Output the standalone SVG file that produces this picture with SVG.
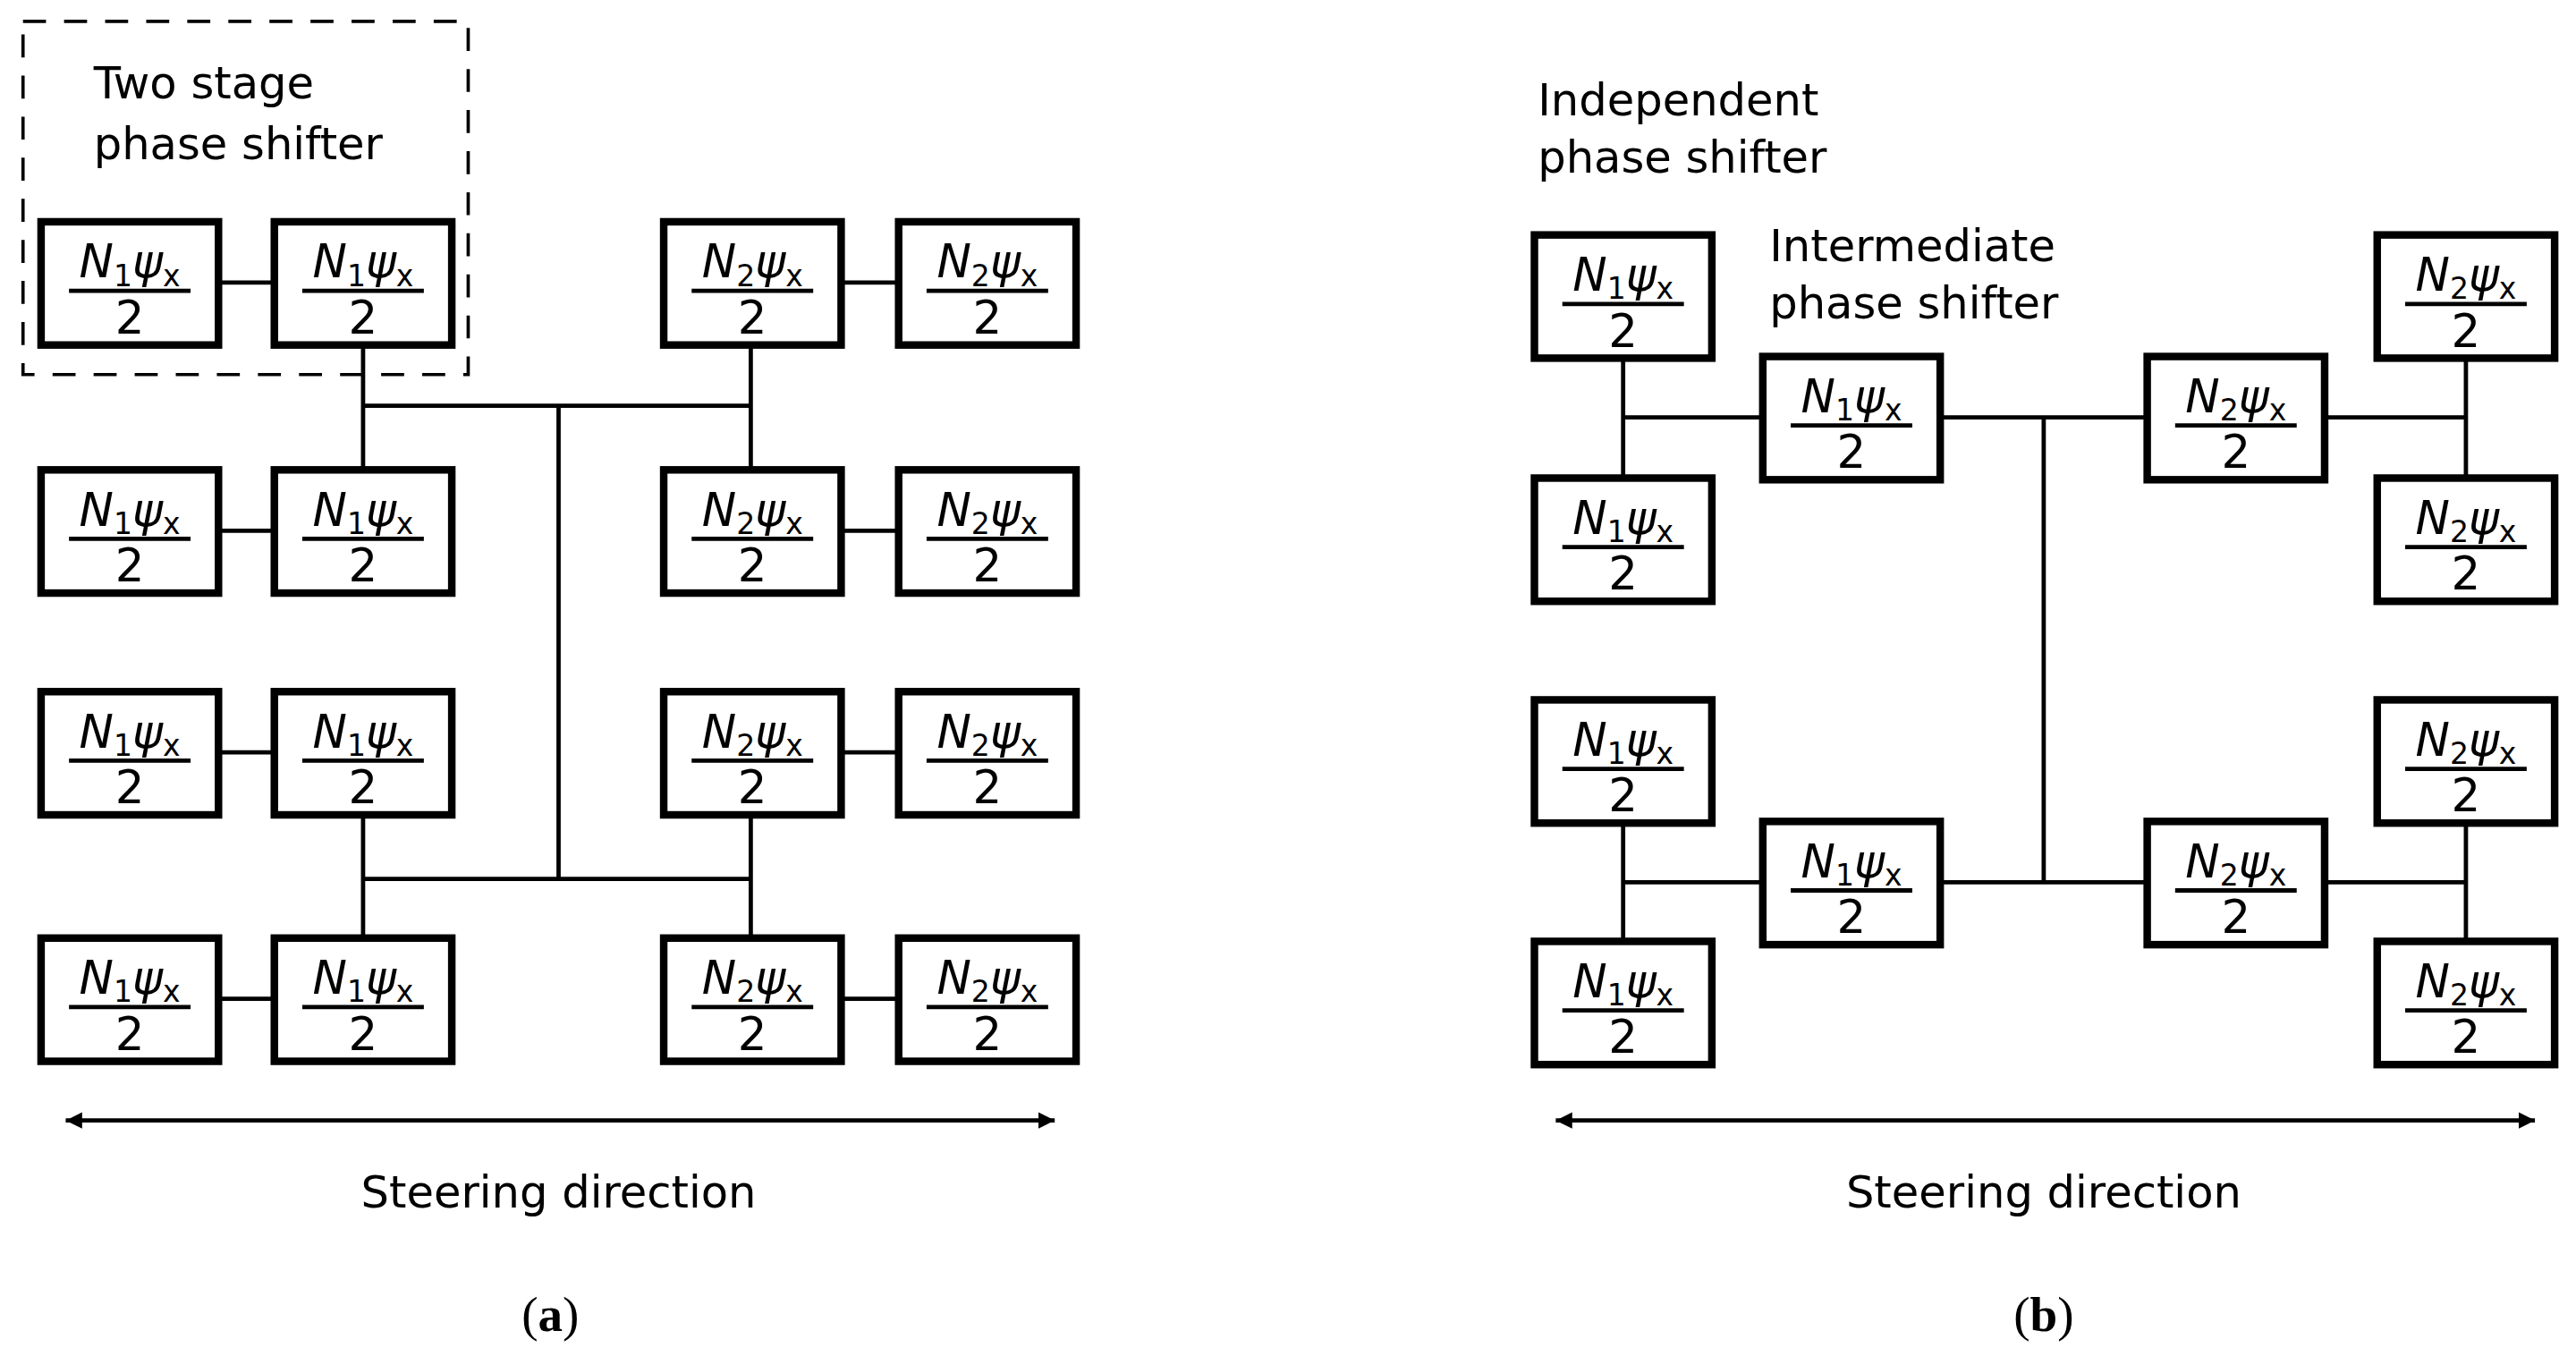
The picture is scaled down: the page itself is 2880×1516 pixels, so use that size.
<svg xmlns="http://www.w3.org/2000/svg" width="2880" height="1516" viewBox="0 0 2880 1516">
<style>
.b{fill:#fff;stroke:#000;stroke-width:4.6}
.l{stroke:#000;stroke-width:2.6;fill:none}
.t{font-family:"DejaVu Sans",sans-serif;font-size:27px;fill:#000}
.f{font-family:"DejaVu Sans",sans-serif;font-size:28px;fill:#000;text-anchor:middle}
.i{font-style:italic}
.s{font-size:18px}
.c{font-family:"Liberation Serif",serif;font-size:30px;text-anchor:middle}
</style>
<defs>
<marker id="ah" viewBox="0 0 10 10" refX="10" refY="5" markerWidth="10" markerHeight="10" markerUnits="userSpaceOnUse" orient="auto-start-reverse"><path d="M0,0 L10,5 L0,10 Z"/></marker>
</defs>
<rect width="2880" height="1516" fill="#fff"/>
<g transform="scale(1.83673)">
<g id="connectors">
<rect x="14" y="13" width="271" height="215" fill="none" stroke="#000" stroke-width="2" stroke-dasharray="14,11"/>
<path class="l" d="M133,172H167M512,172H547M133,323H167M512,323H547M133,458H167M512,458H547M133,608H167M512,608H547"/>
<path class="l" d="M221,210V286M457,210V286M221,247H457M340,247V535M221,535H457M221,496V571M457,496V571"/>
<path class="l" d="M988,217V291M988,254H1073M1181,254H1307M1415,254H1501M1501,217V291M1244,254V537"/>
<path class="l" d="M988,500V573M988,537H1073M1181,537H1307M1415,537H1501M1501,500V573"/>
<line class="l" x1="40" y1="682" x2="642" y2="682" marker-start="url(#ah)" marker-end="url(#ah)" style="marker-start:url(#ah);marker-end:url(#ah)"/>
<line class="l" x1="947" y1="682" x2="1543" y2="682" style="marker-start:url(#ah);marker-end:url(#ah)"/>
</g>
<g id="labels">
<text class="t" x="57" y="60">Two stage</text>
<text class="t" x="57" y="97">phase shifter</text>
<text class="t" x="936" y="70">Independent</text>
<text class="t" x="936" y="105">phase shifter</text>
<text class="t" x="1077" y="159">Intermediate</text>
<text class="t" x="1077" y="194">phase shifter</text>
<text class="t" x="340" y="735" text-anchor="middle">Steering direction</text>
<text class="t" x="1244" y="735" text-anchor="middle">Steering direction</text>
<text class="c" x="335" y="810">(<tspan font-weight="bold">a</tspan>)</text>
<text class="c" x="1244" y="810">(<tspan font-weight="bold">b</tspan>)</text>
</g>
<defs>
<g id="n1"><rect class="b" x="0" y="0" width="108" height="75"/><text class="f" x="54" y="34"><tspan class="i">N</tspan><tspan class="s" dy="5">1</tspan><tspan class="i" dy="-5">ψ</tspan><tspan class="s" dy="5">x</tspan></text><line class="l" x1="17" y1="42" x2="91" y2="42"/><text class="f" x="54" y="68">2</text></g>
<g id="n2"><rect class="b" x="0" y="0" width="108" height="75"/><text class="f" x="54" y="34"><tspan class="i">N</tspan><tspan class="s" dy="5">2</tspan><tspan class="i" dy="-5">ψ</tspan><tspan class="s" dy="5">x</tspan></text><line class="l" x1="17" y1="42" x2="91" y2="42"/><text class="f" x="54" y="68">2</text></g>
</defs>
<g id="a11"><use href="#n1" x="25" y="135"/></g>
<g id="a12"><use href="#n1" x="167" y="135"/></g>
<g id="a13"><use href="#n2" x="404" y="135"/></g>
<g id="a14"><use href="#n2" x="547" y="135"/></g>
<g id="a21"><use href="#n1" x="25" y="286"/></g>
<g id="a22"><use href="#n1" x="167" y="286"/></g>
<g id="a23"><use href="#n2" x="404" y="286"/></g>
<g id="a24"><use href="#n2" x="547" y="286"/></g>
<g id="a31"><use href="#n1" x="25" y="421"/></g>
<g id="a32"><use href="#n1" x="167" y="421"/></g>
<g id="a33"><use href="#n2" x="404" y="421"/></g>
<g id="a34"><use href="#n2" x="547" y="421"/></g>
<g id="a41"><use href="#n1" x="25" y="571"/></g>
<g id="a42"><use href="#n1" x="167" y="571"/></g>
<g id="a43"><use href="#n2" x="404" y="571"/></g>
<g id="a44"><use href="#n2" x="547" y="571"/></g>
<g id="b1"><use href="#n1" x="934" y="143"/></g>
<g id="b2"><use href="#n1" x="934" y="291"/></g>
<g id="b3"><use href="#n1" x="1073" y="217"/></g>
<g id="b4"><use href="#n2" x="1307" y="217"/></g>
<g id="b5"><use href="#n2" x="1447" y="143"/></g>
<g id="b6"><use href="#n2" x="1447" y="291"/></g>
<g id="b7"><use href="#n1" x="934" y="426"/></g>
<g id="b8"><use href="#n1" x="934" y="573"/></g>
<g id="b9"><use href="#n1" x="1073" y="500"/></g>
<g id="b10"><use href="#n2" x="1307" y="500"/></g>
<g id="b11"><use href="#n2" x="1447" y="426"/></g>
<g id="b12"><use href="#n2" x="1447" y="573"/></g>
</g>
</svg>
